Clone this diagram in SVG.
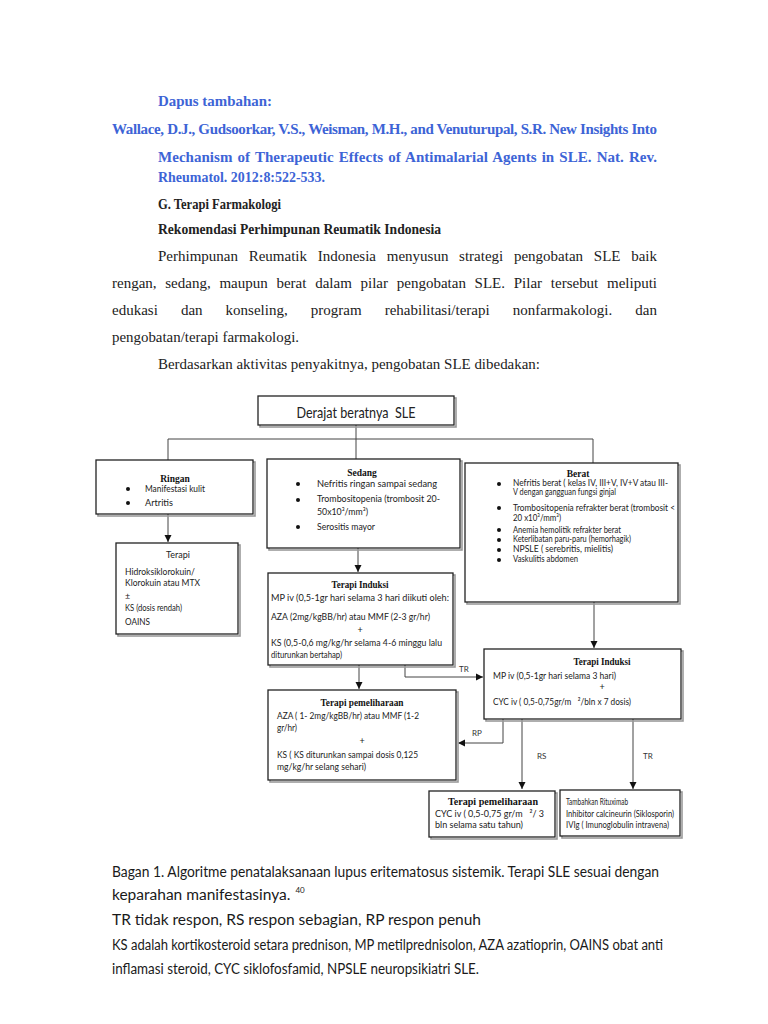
<svg xmlns="http://www.w3.org/2000/svg" width="768" height="1024" viewBox="0 0 768 1024">
<defs>
<marker id="ah" markerWidth="8" markerHeight="8" refX="7" refY="4" orient="auto" markerUnits="userSpaceOnUse">
<path d="M0,0.5 L7,4 L0,7.5 Z" fill="#111"/>
</marker>
<style>
.hd{font-family:"Liberation Serif","Times New Roman",serif;font-size:15px;fill:#222}
.hb{font-weight:bold}
.blue{fill:#3d64d6;font-weight:bold}
.cap{font-family:Lato,"Liberation Sans",sans-serif;font-size:15.5px;fill:#1a1a1a}
.bx{fill:#fff;stroke:#222;stroke-width:1.3}
.sh{fill:none;stroke:#9a9a9a;stroke-width:1.6}
.t{font-family:Lato,"Liberation Sans",sans-serif;font-size:9px;fill:#222}
.ti{font-family:"Liberation Serif","Times New Roman",serif;font-size:9.5px;font-weight:bold;fill:#111}
.ln{fill:none;stroke:#444;stroke-width:1}
.lb{font-family:Lato,"Liberation Sans",sans-serif;font-size:8px;fill:#333}
.bu{fill:#111}
</style>
</defs>
<rect width="768" height="1024" fill="#fff"/>

<g id="header">
<text class="hd blue" x="158" y="106" textLength="114" lengthAdjust="spacingAndGlyphs">Dapus tambahan:</text>
<text class="hd blue" x="112" y="134" textLength="545" lengthAdjust="spacing">Wallace, D.J., Gudsoorkar, V.S., Weisman, M.H., and Venuturupal, S.R. New Insights Into</text>
<text class="hd blue" x="158" y="162" word-spacing="1.3" textLength="499" lengthAdjust="spacing">Mechanism of Therapeutic Effects of Antimalarial Agents in SLE. Nat. Rev.</text>
<text class="hd blue" x="158" y="182" textLength="167" lengthAdjust="spacingAndGlyphs">Rheumatol. 2012:8:522-533.</text>
<text class="hd hb" x="158" y="209" textLength="123" lengthAdjust="spacingAndGlyphs">G. Terapi Farmakologi</text>
<text class="hd hb" x="158" y="234" textLength="283" lengthAdjust="spacingAndGlyphs">Rekomendasi Perhimpunan Reumatik Indonesia</text>
<text class="hd" x="158" y="261" word-spacing="6.95" textLength="499" lengthAdjust="spacing">Perhimpunan Reumatik Indonesia menyusun strategi pengobatan SLE baik</text>
<text class="hd" x="112" y="288" word-spacing="4.97" textLength="545" lengthAdjust="spacing">rengan, sedang, maupun berat dalam pilar pengobatan SLE. Pilar tersebut meliputi</text>
<text class="hd" x="112" y="315" word-spacing="19.3" textLength="545" lengthAdjust="spacing">edukasi dan konseling, program rehabilitasi/terapi nonfarmakologi. dan</text>
<text class="hd" x="112" y="342" textLength="187" lengthAdjust="spacingAndGlyphs">pengobatan/terapi farmakologi.</text>
<text class="hd" x="158" y="369" textLength="382" lengthAdjust="spacingAndGlyphs">Berdasarkan aktivitas penyakitnya, pengobatan SLE dibedakan:</text>
</g>

<g id="connectors">
<path class="ln" d="M356,425 V439 M168,439 H593 M168,439 V460 M356,439 V459 M593,439 V463"/>
<path class="ln" d="M168,514 V542" marker-end="url(#ah)"/>
<path class="ln" d="M358,548 V572" marker-end="url(#ah)"/>
<path class="ln" d="M359,665 V689" marker-end="url(#ah)"/>
<path class="ln" d="M405,665 V677 H483" marker-end="url(#ah)"/>
<path class="ln" d="M594,602 V648" marker-end="url(#ah)"/>
<path class="ln" d="M503,719 V743 H458" marker-end="url(#ah)"/>
<path class="ln" d="M522,719 V789" marker-end="url(#ah)"/>
<path class="ln" d="M633,719 V789" marker-end="url(#ah)"/>
<text class="lb" x="459" y="672">TR</text>
<text class="lb" x="472" y="736">RP</text>
<text class="lb" x="537" y="759">RS</text>
<text class="lb" x="643" y="759">TR</text>
</g>

<g id="derajat">
<rect class="sh" x="260" y="398" width="196" height="29"/>
<rect class="bx" x="258" y="396" width="196" height="29"/>
<text x="356" y="418" text-anchor="middle" font-family="Lato,'Liberation Sans',sans-serif" font-size="15" fill="#222" textLength="119" lengthAdjust="spacingAndGlyphs" xml:space="preserve">Derajat beratnya  SLE</text>
</g>

<g id="ringan">
<rect class="sh" x="98" y="462" width="157" height="54"/>
<rect class="bx" x="96" y="460" width="157" height="54"/>
<text class="ti" x="175" y="482" text-anchor="middle">Ringan</text>
<circle class="bu" cx="128" cy="489" r="2"/>
<text class="t" x="145" y="492" textLength="60" lengthAdjust="spacingAndGlyphs">Manifestasi kulit</text>
<circle class="bu" cx="128" cy="503" r="2"/>
<text class="t" x="145" y="506" textLength="28" lengthAdjust="spacingAndGlyphs">Artritis</text>
</g>

<g id="sedang">
<rect class="sh" x="269" y="461" width="193" height="89"/>
<rect class="bx" x="267" y="459" width="193" height="89"/>
<text class="ti" x="362" y="476" text-anchor="middle">Sedang</text>
<circle class="bu" cx="298" cy="484" r="2"/>
<text class="t" x="317" y="487" textLength="120" lengthAdjust="spacingAndGlyphs">Nefritis ringan sampai sedang</text>
<circle class="bu" cx="298" cy="500" r="2"/>
<text class="t" x="317" y="502" textLength="123" lengthAdjust="spacingAndGlyphs">Trombositopenia (trombosit 20-</text>
<text class="t" x="317" y="515" textLength="51" lengthAdjust="spacingAndGlyphs">50x10³/mm³)</text>
<circle class="bu" cx="298" cy="527" r="2"/>
<text class="t" x="317" y="530" textLength="58" lengthAdjust="spacingAndGlyphs">Serositis mayor</text>
</g>

<g id="berat">
<rect class="sh" x="467" y="465" width="213" height="139"/>
<rect class="bx" x="465" y="463" width="213" height="139"/>
<text class="ti" x="578" y="477" text-anchor="middle">Berat</text>
<circle class="bu" cx="499" cy="484" r="2"/>
<text class="t" x="513" y="486" textLength="155" lengthAdjust="spacingAndGlyphs">Nefritis berat ( kelas IV, III+V, IV+V atau III-</text>
<text class="t" x="513" y="495" textLength="103" lengthAdjust="spacingAndGlyphs">V dengan gangguan fungsi ginjal</text>
<circle class="bu" cx="499" cy="508" r="2"/>
<text class="t" x="513" y="511" textLength="162" lengthAdjust="spacingAndGlyphs">Trombositopenia refrakter berat (trombosit &lt;</text>
<text class="t" x="513" y="521" textLength="48" lengthAdjust="spacingAndGlyphs">20 x10³/mm³)</text>
<circle class="bu" cx="499" cy="530" r="2"/>
<text class="t" x="513" y="533" textLength="108" lengthAdjust="spacingAndGlyphs">Anemia hemolitik refrakter berat</text>
<circle class="bu" cx="499" cy="540" r="2"/>
<text class="t" x="513" y="542" textLength="118" lengthAdjust="spacingAndGlyphs">Keterlibatan paru-paru (hemorhagik)</text>
<circle class="bu" cx="499" cy="550" r="2"/>
<text class="t" x="513" y="552" textLength="100" lengthAdjust="spacingAndGlyphs">NPSLE ( serebritis, mielitis)</text>
<circle class="bu" cx="499" cy="560" r="2"/>
<text class="t" x="513" y="562" textLength="65" lengthAdjust="spacingAndGlyphs">Vaskulitis abdomen</text>
</g>

<g id="terapi-ringan">
<rect class="sh" x="118" y="545" width="122" height="91"/>
<rect class="bx" x="116" y="543" width="122" height="91"/>
<text class="t" x="178" y="558" text-anchor="middle">Terapi</text>
<text class="t" x="125" y="575" textLength="70" lengthAdjust="spacingAndGlyphs">Hidroksiklorokuin/</text>
<text class="t" x="125" y="586" textLength="75" lengthAdjust="spacingAndGlyphs">Klorokuin atau MTX</text>
<text class="t" x="125" y="599">±</text>
<text class="t" x="125" y="611" textLength="57" lengthAdjust="spacingAndGlyphs">KS (dosis rendah)</text>
<text class="t" x="125" y="625" textLength="25" lengthAdjust="spacingAndGlyphs">OAINS</text>
</g>

<g id="induksi-sedang">
<rect class="sh" x="270" y="575" width="185" height="92"/>
<rect class="bx" x="268" y="573" width="185" height="92"/>
<text class="ti" x="360" y="588" text-anchor="middle" textLength="57" lengthAdjust="spacingAndGlyphs">Terapi Induksi</text>
<text class="t" x="271" y="601" textLength="178" lengthAdjust="spacingAndGlyphs">MP iv (0,5-1gr hari selama 3 hari diikuti oleh:</text>
<text class="t" x="271" y="620" textLength="159" lengthAdjust="spacingAndGlyphs">AZA (2mg/kgBB/hr) atau MMF (2-3 gr/hr)</text>
<text class="t" x="360" y="633" text-anchor="middle">+</text>
<text class="t" x="271" y="646" textLength="171" lengthAdjust="spacingAndGlyphs">KS (0,5-0,6 mg/kg/hr selama 4-6 minggu lalu</text>
<text class="t" x="271" y="658" textLength="71" lengthAdjust="spacingAndGlyphs">diturunkan bertahap)</text>
</g>

<g id="pemeliharaan-sedang">
<rect class="sh" x="270" y="692" width="188" height="90"/>
<rect class="bx" x="268" y="690" width="188" height="90"/>
<text class="ti" x="362" y="706" text-anchor="middle" textLength="83" lengthAdjust="spacingAndGlyphs">Terapi pemeliharaan</text>
<text class="t" x="277" y="719" textLength="142" lengthAdjust="spacingAndGlyphs">AZA ( 1- 2mg/kgBB/hr) atau MMF (1-2</text>
<text class="t" x="277" y="731" textLength="20" lengthAdjust="spacingAndGlyphs">gr/hr)</text>
<text class="t" x="362" y="744" text-anchor="middle">+</text>
<text class="t" x="277" y="758" textLength="141" lengthAdjust="spacingAndGlyphs">KS ( KS diturunkan sampai dosis 0,125</text>
<text class="t" x="277" y="770" textLength="89" lengthAdjust="spacingAndGlyphs">mg/kg/hr selang sehari)</text>
</g>

<g id="induksi-berat">
<rect class="sh" x="486" y="651" width="197" height="70"/>
<rect class="bx" x="484" y="649" width="197" height="70"/>
<text class="ti" x="602" y="665" text-anchor="middle" textLength="57" lengthAdjust="spacingAndGlyphs">Terapi Induksi</text>
<text class="t" x="493" y="679" textLength="123" lengthAdjust="spacingAndGlyphs">MP iv (0,5-1gr hari selama 3 hari)</text>
<text class="t" x="602" y="690" text-anchor="middle">+</text>
<text class="t" x="493" y="705" textLength="138" lengthAdjust="spacingAndGlyphs" xml:space="preserve">CYC iv ( 0,5-0,75gr/m   ²/bln x 7 dosis)</text>
</g>

<g id="pemeliharaan-berat">
<rect class="sh" x="431" y="793" width="126" height="46"/>
<rect class="bx" x="429" y="791" width="126" height="46"/>
<text class="ti" x="493" y="805" text-anchor="middle" textLength="90" lengthAdjust="spacingAndGlyphs">Terapi pemeliharaan</text>
<text class="t" x="435" y="817" textLength="109" lengthAdjust="spacingAndGlyphs" xml:space="preserve">CYC iv ( 0,5-0,75 gr/m   ²/ 3</text>
<text class="t" x="435" y="828" textLength="88" lengthAdjust="spacingAndGlyphs">bln selama satu tahun)</text>
</g>

<g id="tambahan">
<rect class="sh" x="562" y="792" width="120" height="46"/>
<rect class="bx" x="560" y="790" width="120" height="46"/>
<text class="t" x="566" y="805" textLength="62" lengthAdjust="spacingAndGlyphs">Tambahkan Rituximab</text>
<text class="t" x="566" y="817" textLength="108" lengthAdjust="spacingAndGlyphs">Inhibitor calcineurin (Siklosporin)</text>
<text class="t" x="566" y="828" textLength="103" lengthAdjust="spacingAndGlyphs">IVIg ( Imunoglobulin intravena)</text>
</g>

<g id="caption">
<text class="cap" x="112" y="877" textLength="547" lengthAdjust="spacingAndGlyphs">Bagan 1. Algoritme penatalaksanaan lupus eritematosus sistemik. Terapi SLE sesuai dengan</text>
<text class="cap" x="112" y="900">keparahan manifestasinya.<tspan dx="5" dy="-7" font-size="8">40</tspan></text>
<text class="cap" x="112" y="925" textLength="369" lengthAdjust="spacing">TR tidak respon, RS respon sebagian, RP respon penuh</text>
<text class="cap" x="112" y="950" textLength="551" lengthAdjust="spacingAndGlyphs">KS adalah kortikosteroid setara prednison, MP metilprednisolon, AZA azatioprin, OAINS obat anti</text>
<text class="cap" x="112" y="974" textLength="367" lengthAdjust="spacingAndGlyphs">inflamasi steroid, CYC siklofosfamid, NPSLE neuropsikiatri SLE.</text>
</g>
</svg>
